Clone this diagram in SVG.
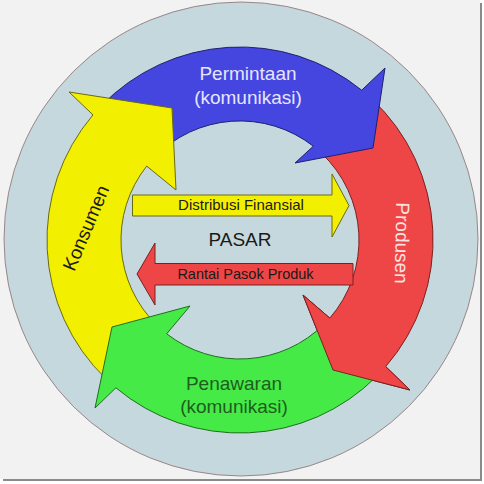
<svg xmlns="http://www.w3.org/2000/svg" width="484" height="484" viewBox="0 0 484 484">
<style>
.t{font-family:"Liberation Sans",Arial,sans-serif;text-anchor:middle}
.big{font-size:19px}
.sm{font-size:15px}
.sm2{font-size:14.5px}
.arr{stroke-width:1;stroke-linejoin:miter}
</style>
<rect x="0" y="0" width="484" height="484" fill="#ffffff"/>
<rect x="3" y="3" width="479" height="478" fill="#8a8a8a"/>
<rect x="0" y="0" width="480" height="479" fill="#f2f2f2"/>
<circle cx="241" cy="239" r="237" fill="#c5d8dd" stroke="#8a6e6e" stroke-width="0.8"/>
<g id="connectors">
<g id="produsen-arrow">
<path class="arr" d="M371.6,98.8 A193,193 0 0 1 385.7,366.6 L410,390 L333,370 L303,295 L329.8,318.1 A119,119 0 0 0 321.2,153 Z" fill="#ee4646" stroke="#7a2020"/>
</g>
<g id="permintaan-arrow">
<path class="arr" d="M101.2,105.9 A193,193 0 0 1 361.7,90.2 L385,68 L373,148 L295,163 L313.3,146.2 A119,119 0 0 0 154.4,157.3 Z" fill="#4545e0" stroke="#20206e"/>
</g>
<g id="konsumen-arrow">
<path class="arr" d="M105.9,378.8 A193,193 0 0 1 93,114.9 L69,92 L172,108 L176,190 L146.7,166.1 A119,119 0 0 0 157.3,325.6 Z" fill="#f2f000" stroke="#6a6a10"/>
</g>
<g id="penawaran-arrow">
<path class="arr" d="M376.5,376.5 A193,193 0 0 1 115.9,387.8 L95,408 L112,327 L190,306 L166.7,333.8 A119,119 0 0 0 324.1,324.1 Z" fill="#46ea46" stroke="#1e6e1e"/>
</g>
<g id="produsen-head">
<path d="M385.7,366.6 L410,390 L333,370 L303,295 L329.8,318.1 Z" fill="#ee4646"/>
<path class="arr" d="M385.7,366.6 L410,390 L333,370 L303,295 L329.8,318.1" fill="none" stroke="#7a2020"/>
</g>
<g id="distribusi-arrow">
<path class="arr" d="M132.5,195 L332,195 L332,174 L349,205.5 L332,237 L332,216 L132.5,216 Z" fill="#f2f000" stroke="#6a6a10"/>
</g>
<g id="rantai-arrow">
<path class="arr" d="M353,263.5 L155,263.5 L155,243 L137,274 L155,305 L155,285 L353,285 Z" fill="#ee4646" stroke="#7a2020"/>
</g>
</g>
<g id="node-permintaan">
<text class="t big" x="248" y="80" fill="#e6e6ff">Permintaan</text>
<text class="t big" x="248" y="104" fill="#e6e6ff">(komunikasi)</text>
</g>
<g id="node-penawaran">
<text class="t big" x="234" y="390" fill="#1d5e1d">Penawaran</text>
<text class="t big" x="234" y="413" fill="#1d5e1d">(komunikasi)</text>
</g>
<g id="node-konsumen">
<text class="t big" transform="translate(92,230.5) rotate(-67)" fill="#1a1a1a">Konsumen</text>
</g>
<g id="node-produsen">
<text class="t big" transform="translate(395.5,243) rotate(91)" fill="#fde2e2">Produsen</text>
</g>
<g id="node-pasar">
<text class="t big" x="240" y="245.5" fill="#1a1a1a">PASAR</text>
</g>
<g id="labels">
<text class="t sm" x="241" y="210" fill="#1a1a1a">Distribusi Finansial</text>
<text class="t sm2" x="245.5" y="279" fill="#1a1a1a">Rantai Pasok Produk</text>
</g>
</svg>
